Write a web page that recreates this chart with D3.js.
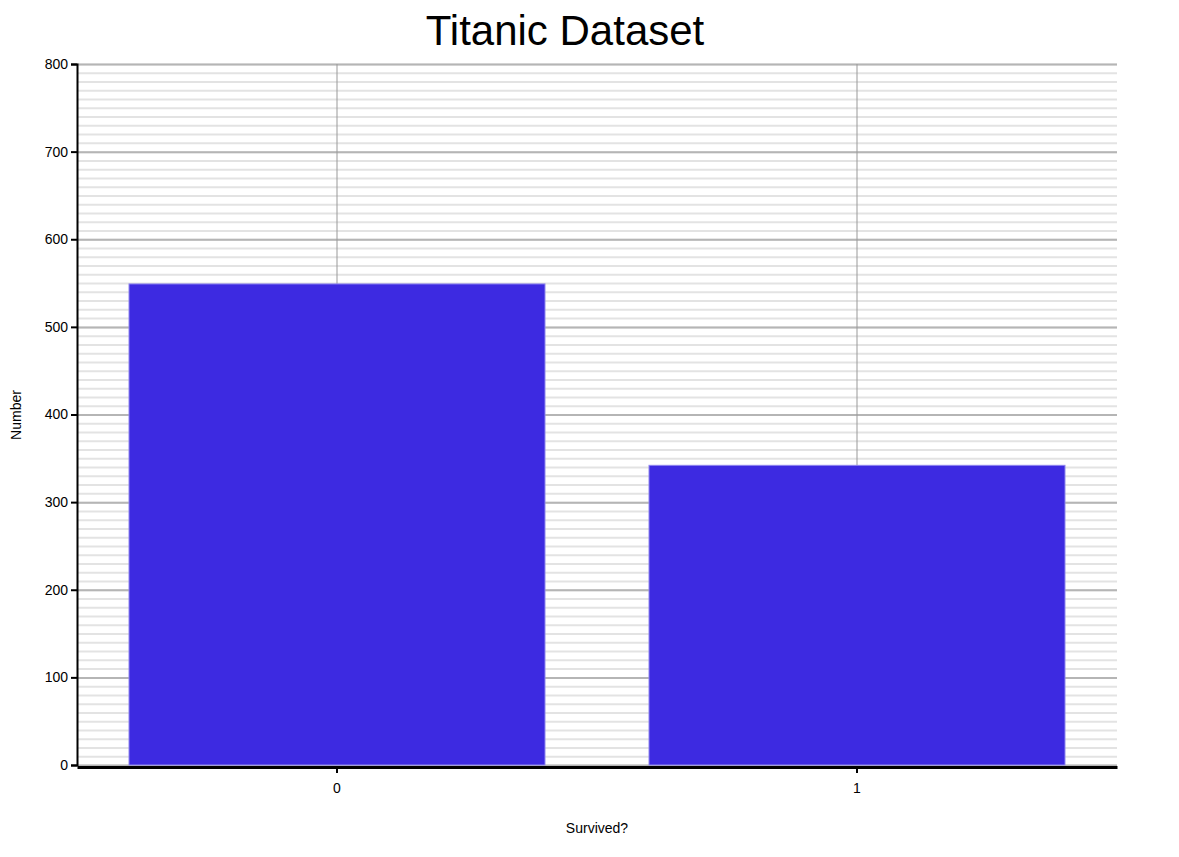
<!DOCTYPE html>
<html>
<head>
<meta charset="utf-8">
<script src="https://d3js.org/d3.v7.min.js"></script>
<style>
  body { margin: 0; background: #fff; font-family: "Liberation Sans", Arial, sans-serif; }
  .grid-minor line { stroke: #e3e3e3; stroke-width: 2; }
  .grid-major line { stroke: #b5b5b5; stroke-width: 2; }
  .grid-minor path, .grid-major path { display: none; }
  .axis text { font-size: 14px; fill: #000; }
</style>
</head>
<body>
<svg id="chart" width="1179" height="857"></svg>
<script>
var categories = ["0", "1"];
var counts = [549, 342];
var yTicks = [0, 100, 200, 300, 400, 500, 600, 700, 800];

var svg = d3.select("#chart");
var margin = {top: 64, right: 62, bottom: 92, left: 77};
var width = +svg.attr("width") - margin.left - margin.right;
var height = +svg.attr("height") - margin.top - margin.bottom;

var g = svg.append("g").attr("transform", "translate(" + margin.left + "," + margin.top + ")");

var x = d3.scaleBand().domain(categories).range([0, width]).paddingInner(0.2).paddingOuter(0.1);
var y = d3.scaleLinear().domain([0, 800]).range([height, 0]);

// minor grid every 10
g.append("g").attr("class", "grid-minor")
    .call(d3.axisLeft(y).tickValues(d3.range(0, 801, 10)).tickSize(-width).tickFormat(""));
// major grid every 100
g.append("g").attr("class", "grid-major")
    .call(d3.axisLeft(y).tickValues(yTicks).tickSize(-width).tickFormat(""));

// vertical grid lines at the band centres
g.selectAll(".vgrid").data(categories).enter().append("line")
    .attr("x1", function(d) { return x(d) + x.bandwidth() / 2 })
    .attr("x2", function(d) { return x(d) + x.bandwidth() / 2 })
    .attr("y1", 0)
    .attr("y2", height)
    .attr("stroke", "#999")
    .attr("stroke-width", 1);

g.selectAll(".bar").data(counts).enter().append("rect")
    .attr("x", function(d, i) { return x(categories[i]) })
    .attr("y", function(d) { return y(d) })
    .attr("width", x.bandwidth())
    .attr("height", function(d) { return height - y(d) })
    .attr("fill", "#3d2ae1")
    .attr("stroke", "#8f86ee")
    .attr("stroke-width", 1);

var yAxis = g.append("g").attr("class", "axis")
    .call(d3.axisLeft(y).tickValues(yTicks).tickSizeOuter(6));
yAxis.select(".domain").attr("stroke", "#000").attr("stroke-width", 2);
yAxis.selectAll(".tick line").attr("stroke", "#000").attr("stroke-width", 2);

var xAxis = g.append("g").attr("class", "axis")
    .attr("transform", "translate(0," + (height + 2) + ")")
    .call(d3.axisBottom(x).tickSizeOuter(0).tickPadding(10));
xAxis.select(".domain").attr("stroke", "#000").attr("stroke-width", 3);
xAxis.selectAll(".tick line").attr("stroke", "#000").attr("stroke-width", 2);

svg.append("text")
    .attr("x", 565)
    .attr("y", 45)
    .attr("text-anchor", "middle")
    .attr("font-size", 42)
    .text("Titanic Dataset");

svg.append("text")
    .attr("x", margin.left + width / 2)
    .attr("y", 833)
    .attr("text-anchor", "middle")
    .attr("font-size", 14)
    .text("Survived?");

svg.append("text")
    .attr("transform", "translate(21,415) rotate(-90)")
    .attr("text-anchor", "middle")
    .attr("font-size", 14)
    .text("Number");
</script>
</body>
</html>
